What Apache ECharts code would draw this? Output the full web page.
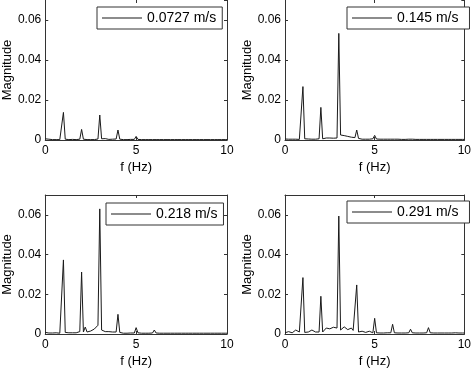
<!DOCTYPE html>
<html>
<head>
<meta charset="utf-8">
<script src="https://cdn.jsdelivr.net/npm/echarts@6/dist/echarts.min.js"></script>
<style>
html,body{margin:0;padding:0;background:#fff;}
#chart{width:474px;height:372px;}
</style>
</head>
<body>
<div id="chart"></div>
<script>
const freq = [
0.0,0.1,0.2,0.3,0.4,0.5,0.6,0.7,0.8,0.9,
1.0,1.1,1.2,1.3,1.4,1.5,1.6,1.7,1.8,1.9,
2.0,2.1,2.2,2.3,2.4,2.5,2.6,2.7,2.8,2.9,
3.0,3.1,3.2,3.3,3.4,3.5,3.6,3.7,3.8,3.9,
4.0,4.1,4.2,4.3,4.4,4.5,4.6,4.7,4.8,4.9,
5.0,5.1,5.2,5.3,5.4,5.5,5.6,5.7,5.8,5.9,
6.0,6.1,6.2,6.3,6.4,6.5,6.6,6.7,6.8,6.9,
7.0,7.1,7.2,7.3,7.4,7.5,7.6,7.7,7.8,7.9,
8.0,8.1,8.2,8.3,8.4,8.5,8.6,8.7,8.8,8.9,
9.0,9.1,9.2,9.3,9.4,9.5,9.6,9.7,9.8,9.9,
10.0];

const mag0727 = [
0.0006,0.0005,0.0004,0.0003,0.0002,0.0002,0.0002,0.0002,0.0002,0.0003,
0.0138,0.0004,0.0002,0.0002,0.0002,0.0003,0.0002,0.0002,0.0002,0.0004,
0.0053,0.0004,0.0002,0.0002,0.0003,0.0002,0.0003,0.0002,0.0003,0.0005,
0.0125,0.0006,0.0005,0.0007,0.0004,0.0003,0.0003,0.0004,0.0003,0.0005,
0.0050,0.0004,0.0003,0.0002,0.0003,0.0002,0.0002,0.0003,0.0002,0.0003,
0.0018,0.0003,0.0002,0.0002,0.0002,0.0002,0.0002,0.0002,0.0002,0.0002,
0.0003,0.0002,0.0002,0.0002,0.0002,0.0002,0.0002,0.0002,0.0002,0.0002,
0.0006,0.0002,0.0002,0.0002,0.0002,0.0002,0.0002,0.0002,0.0002,0.0002,
0.0003,0.0002,0.0002,0.0002,0.0002,0.0002,0.0002,0.0002,0.0002,0.0002,
0.0005,0.0002,0.0002,0.0002,0.0002,0.0002,0.0002,0.0002,0.0002,0.0002,
0.0002];

const mag145 = [
0.0005,0.0004,0.0004,0.0003,0.0004,0.0003,0.0004,0.0003,0.0003,0.0005,
0.0267,0.0006,0.0004,0.0005,0.0003,0.0004,0.0003,0.0004,0.0004,0.0006,
0.0163,0.0006,0.0008,0.0010,0.0009,0.0010,0.0012,0.0009,0.0011,0.0010,
0.0533,0.0025,0.0023,0.0022,0.0020,0.0018,0.0016,0.0014,0.0010,0.0012,
0.0050,0.0008,0.0005,0.0004,0.0005,0.0004,0.0005,0.0004,0.0005,0.0006,
0.0023,0.0005,0.0004,0.0004,0.0003,0.0004,0.0003,0.0004,0.0004,0.0004,
0.0010,0.0004,0.0003,0.0004,0.0003,0.0003,0.0004,0.0003,0.0003,0.0004,
0.0013,0.0004,0.0003,0.0003,0.0003,0.0003,0.0003,0.0003,0.0003,0.0003,
0.0004,0.0003,0.0003,0.0003,0.0003,0.0003,0.0003,0.0003,0.0003,0.0003,
0.0006,0.0003,0.0003,0.0003,0.0003,0.0003,0.0003,0.0003,0.0003,0.0003,
0.0003];

const mag218 = [
0.0008,0.0006,0.0005,0.0007,0.0005,0.0004,0.0006,0.0005,0.0004,0.0008,
0.0373,0.0008,0.0005,0.0006,0.0005,0.0006,0.0005,0.0006,0.0008,0.0012,
0.0312,0.0010,0.0035,0.0010,0.0008,0.0015,0.0018,0.0025,0.0020,0.0044,
0.0630,0.0020,0.0010,0.0012,0.0008,0.0012,0.0016,0.0010,0.0008,0.0010,
0.0099,0.0008,0.0005,0.0004,0.0005,0.0004,0.0004,0.0005,0.0004,0.0005,
0.0032,0.0006,0.0004,0.0004,0.0004,0.0004,0.0004,0.0004,0.0004,0.0005,
0.0020,0.0005,0.0004,0.0004,0.0004,0.0004,0.0004,0.0004,0.0004,0.0004,
0.0005,0.0004,0.0004,0.0004,0.0004,0.0004,0.0004,0.0004,0.0004,0.0004,
0.0009,0.0004,0.0004,0.0004,0.0004,0.0004,0.0004,0.0004,0.0004,0.0004,
0.0007,0.0004,0.0004,0.0004,0.0004,0.0004,0.0004,0.0004,0.0004,0.0004,
0.0004];

const mag291 = [
0.0006,0.0008,0.0012,0.0008,0.0006,0.0010,0.0020,0.0014,0.0010,0.0012,
0.0284,0.0008,0.0006,0.0010,0.0016,0.0020,0.0018,0.0010,0.0008,0.0010,
0.0190,0.0010,0.0016,0.0030,0.0032,0.0026,0.0030,0.0034,0.0026,0.0030,
0.0594,0.0020,0.0030,0.0036,0.0030,0.0022,0.0032,0.0030,0.0018,0.0012,
0.0247,0.0010,0.0012,0.0014,0.0010,0.0008,0.0012,0.0014,0.0008,0.0006,
0.0079,0.0006,0.0005,0.0005,0.0006,0.0005,0.0005,0.0006,0.0005,0.0006,
0.0049,0.0006,0.0005,0.0005,0.0005,0.0005,0.0006,0.0005,0.0005,0.0006,
0.0024,0.0006,0.0005,0.0005,0.0005,0.0005,0.0005,0.0005,0.0005,0.0006,
0.0032,0.0006,0.0005,0.0005,0.0005,0.0005,0.0005,0.0005,0.0005,0.0005,
0.0010,0.0005,0.0005,0.0005,0.0005,0.0006,0.0005,0.0005,0.0005,0.0005,
0.0005];

const seriesNames = ['0.0727 m/s', '0.145 m/s', '0.218 m/s', '0.291 m/s'];
const seriesValues = [mag0727, mag145, mag218, mag291];
const xTicks = [0, 5, 10];
const yTicks = [0, 0.02, 0.04, 0.06];
const xLabel = 'f (Hz)';
const yLabel = 'Magnitude';

const FONT = "'Liberation Sans', Arial, sans-serif";
const AX = '#333333';
const LINE = '#1a1a1a';

// layout (pixels)
const grids = [
  {left: 43, top: -1, width: 184, height: 141},
  {left: 285, top: -1, width: 183, height: 141},
  {left: 43, top: 195, width: 184, height: 139},
  {left: 285, top: 195, width: 183, height: 139}
];
const topLineVisible = [false, false, true, true];
const legendPos = [
  {left: 97, top: 7, padding: [4, 6, 4, 5]},
  {left: 347, top: 7, padding: [4, 11, 4, 5]},
  {left: 106, top: 203, padding: [4, 6, 4, 5]},
  {left: 347, top: 201, padding: [4, 11, 4, 5]}
];
const yNameGap = [27, 30, 27, 30];

const xAxes = [], yAxes = [], series = [], legends = [];
grids.forEach((g, i) => {
  const common = {
    gridIndex: i, type: 'value',
    axisLine: {show: true, onZero: false, lineStyle: {color: AX, width: 1}},
    axisTick: {show: true, inside: true, length: 3, lineStyle: {color: AX}},
    splitLine: {show: false}
  };
  xAxes.push(Object.assign({}, common, {
    position: 'bottom', min: xTicks[0], max: xTicks[xTicks.length - 1],
    interval: xTicks[1] - xTicks[0],
    axisLabel: {show: true, color: '#000', fontFamily: FONT, fontSize: 12, margin: 5},
    name: xLabel, nameLocation: 'middle', nameGap: 21,
    nameTextStyle: {color: '#000', fontFamily: FONT, fontSize: 13}
  }));
  xAxes.push(Object.assign({}, common, {
    position: 'top', min: xTicks[0], max: xTicks[xTicks.length - 1],
    interval: xTicks[1] - xTicks[0],
    axisLine: {show: topLineVisible[i], onZero: false, lineStyle: {color: AX, width: 1}},
    axisLabel: {show: false}
  }));
  yAxes.push(Object.assign({}, common, {
    position: 'left', min: 0, max: 0.07, interval: yTicks[1] - yTicks[0],
    axisLabel: {show: true, color: '#000', fontFamily: FONT, fontSize: 12, margin: 4,
      showMaxLabel: false,
      formatter: v => (yTicks.some(t => Math.abs(t - v) < 1e-9) ? String(+v.toFixed(2)) : '')},
    name: yLabel, nameLocation: 'middle', nameGap: yNameGap[i], nameRotate: 90,
    nameTextStyle: {color: '#000', fontFamily: FONT, fontSize: 13}
  }));
  yAxes.push(Object.assign({}, common, {
    position: 'right', min: 0, max: 0.07, interval: yTicks[1] - yTicks[0],
    axisLabel: {show: false}
  }));
  series.push({
    name: seriesNames[i], type: 'line',
    xAxisIndex: 2 * i, yAxisIndex: 2 * i,
    data: freq.map((f, k) => [f, seriesValues[i][k]]),
    showSymbol: false, symbol: 'none',
    lineStyle: {color: LINE, width: 1},
    itemStyle: {color: LINE},
    z: 3
  });
  legends.push({
    data: [seriesNames[i]],
    left: legendPos[i].left, top: legendPos[i].top,
    padding: legendPos[i].padding,
    orient: 'horizontal',
    backgroundColor: '#fff',
    borderColor: AX, borderWidth: 1,
    icon: 'rect', itemWidth: 40, itemHeight: 1, itemGap: 0,
    textStyle: {color: '#000', fontFamily: FONT, fontSize: 14, padding: [0, 0, 0, 0]},
    selectedMode: false
  });
});

const chart = echarts.init(document.getElementById('chart'), null, {renderer: 'canvas'});
chart.setOption({
  animation: false,
  backgroundColor: '#fff',
  grid: grids.map(g => Object.assign({containLabel: false}, g)),
  xAxis: xAxes,
  yAxis: yAxes,
  legend: legends,
  series: series
});
</script>
</body>
</html>
